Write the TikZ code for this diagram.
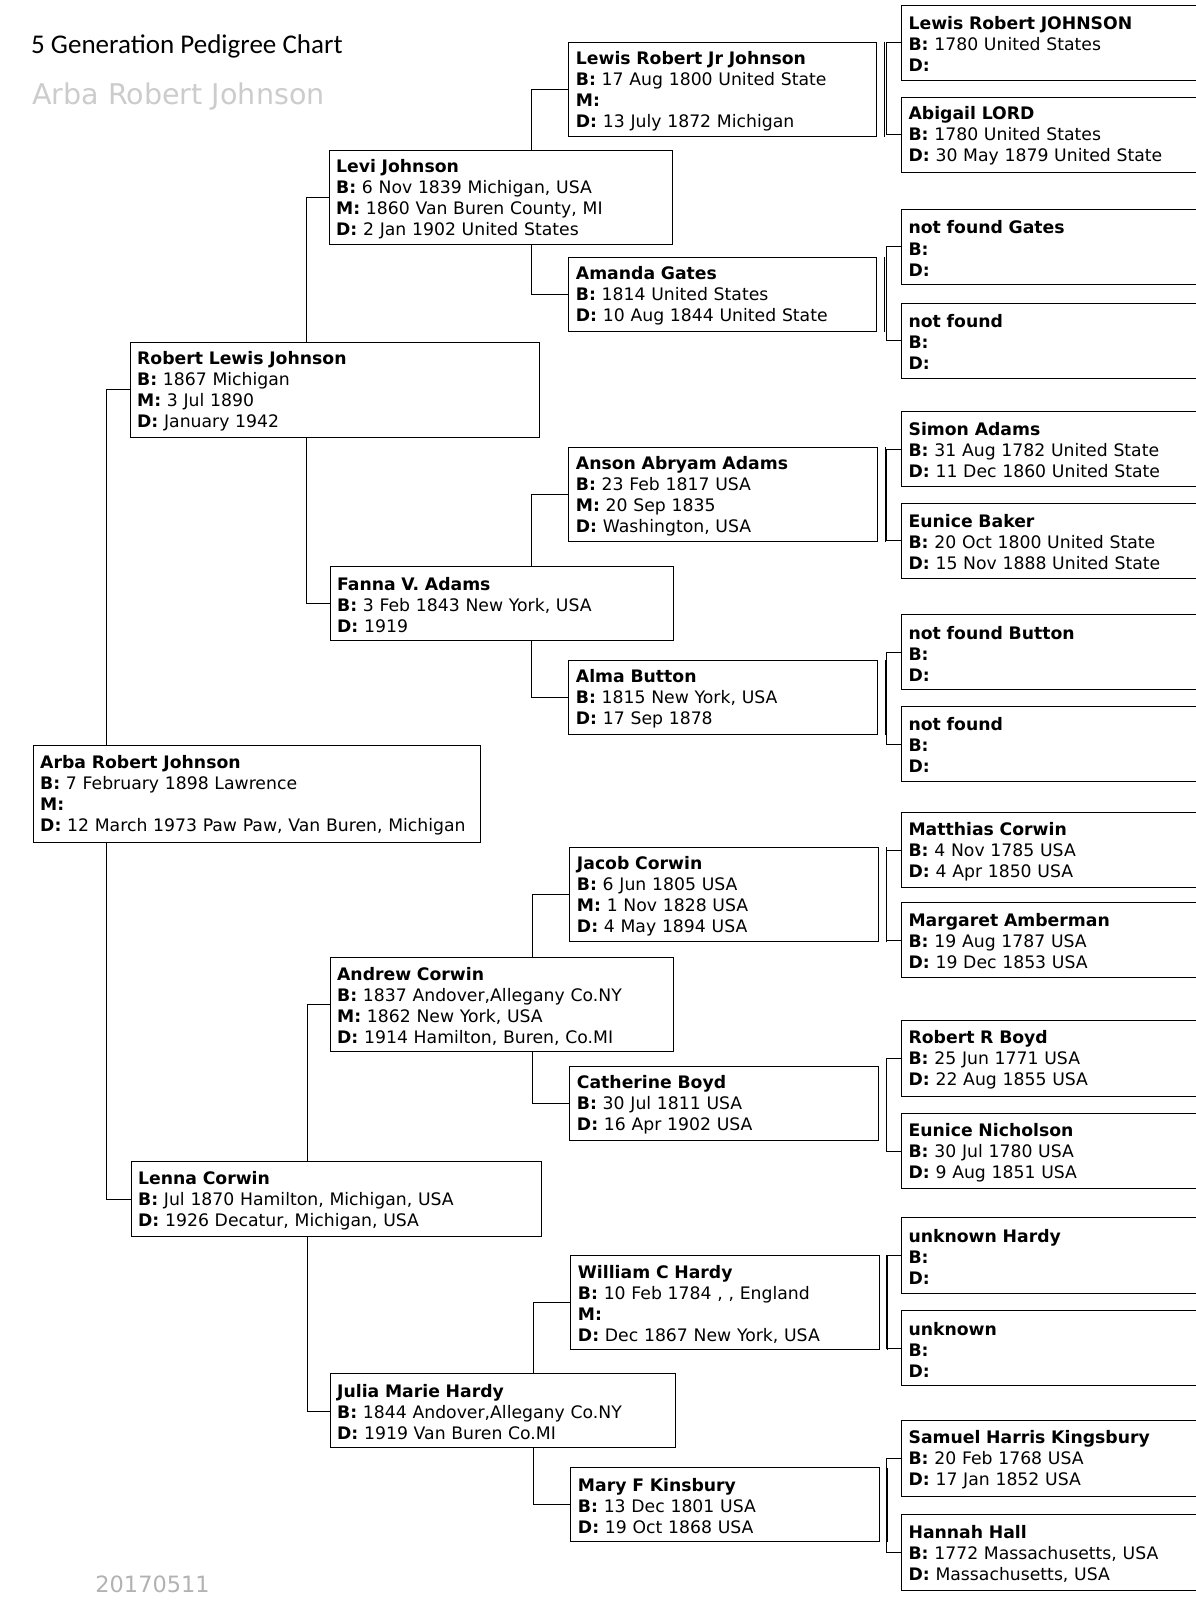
\documentclass[tikz,border=0pt]{standalone}
\usepackage{fontspec}
\setmainfont{DejaVu Sans}
\newfontfamily\titlefont{Carlito}
\usetikzlibrary{backgrounds}
\hyphenpenalty=10000
\exhyphenpenalty=10000
\tikzset{
 pbox/.style={draw, fill=white, line width=0.8pt, anchor=north west, align=left, inner xsep=7pt, inner ysep=2pt, font=\fontsize{16.9}{20.6}\selectfont},
 obox/.style={pbox, draw=none},
 conn/.style={line width=0.8pt}
}
\newcommand{\pb}[6]{\node[pbox, text width=#4-14pt, minimum width=#4, minimum height=#5] (#1) at (#2,#3) {\rule{0pt}{16pt}#6};}
\newcommand{\ob}[4]{\node[obox, text width=282pt, minimum width=296pt, minimum height=73pt] (#1) at (883,#2) {\rule{0pt}{16pt}\textbf{#3}\\#4};
 \draw[conn] (#1.north east) -- (#1.north west) -- (#1.south west) -- (#1.south east);}
\begin{document}
\begin{tikzpicture}[x=1pt,y=-1pt,scale=1.0205,every node/.append style={transform shape}]
\node[anchor=west, font=\titlefont\fontsize{26.5}{30}\selectfont] (title) at (27,46) {5 Generation Pedigree Chart};
\node[anchor=west, text=black!20, font=\fontsize{28}{30}\selectfont] (sub) at (28,95) {Arba Robert Johnson};
\node[anchor=west, text=black!30, font=\fontsize{22}{24}\selectfont] (foot) at (90,1553) {20170511};
% gen1
\pb{arba}{32}{730}{438pt}{95pt}{\textbf{Arba Robert Johnson}\\\textbf{B:} 7 February 1898 Lawrence\\\textbf{M:}\\\textbf{D:} 12 March 1973 Paw Paw, Van Buren, Michigan}
% gen2
\pb{robert}{127}{335}{401pt}{93pt}{\textbf{Robert Lewis Johnson}\\\textbf{B:} 1867 Michigan\\\textbf{M:} 3 Jul 1890\\\textbf{D:} January 1942}
\pb{lenna}{128}{1138}{402pt}{73pt}{\textbf{Lenna Corwin}\\\textbf{B:} Jul 1870 Hamilton, Michigan, USA\\\textbf{D:} 1926 Decatur, Michigan, USA}
% gen3
\pb{levi}{322}{147}{337pt}{92pt}{\textbf{Levi Johnson}\\\textbf{B:} 6 Nov 1839 Michigan, USA\\\textbf{M:} 1860 Van Buren County, MI\\\textbf{D:} 2 Jan 1902 United States}
\pb{fanna}{323}{555}{337pt}{72pt}{\textbf{Fanna V. Adams}\\\textbf{B:} 3 Feb 1843 New York, USA\\\textbf{D:} 1919}
\pb{andrew}{323}{938}{337pt}{92pt}{\textbf{Andrew Corwin}\\\textbf{B:} 1837 Andover,Allegany Co.NY\\\textbf{M:} 1862 New York, USA\\\textbf{D:} 1914 Hamilton, Buren, Co.MI}
\pb{julia}{323}{1346}{338pt}{72pt}{\textbf{Julia Marie Hardy}\\\textbf{B:} 1844 Andover,Allegany Co.NY\\\textbf{D:} 1919 Van Buren Co.MI}
% gen4
\pb{lrj}{557}{41}{301pt}{92pt}{\textbf{Lewis Robert Jr Johnson}\\\textbf{B:} 17 Aug 1800 United State\\\textbf{M:}\\\textbf{D:} 13 July 1872 Michigan}
\pb{amanda}{557}{252}{301pt}{72pt}{\textbf{Amanda Gates}\\\textbf{B:} 1814 United States\\\textbf{D:} 10 Aug 1844 United State}
\pb{anson}{557}{438}{302pt}{92pt}{\textbf{Anson Abryam Adams}\\\textbf{B:} 23 Feb 1817 USA\\\textbf{M:} 20 Sep 1835\\\textbf{D:} Washington, USA}
\pb{alma}{557}{647}{302pt}{72pt}{\textbf{Alma Button}\\\textbf{B:} 1815 New York, USA\\\textbf{D:} 17 Sep 1878}
\pb{jacob}{558}{830}{302pt}{92pt}{\textbf{Jacob Corwin}\\\textbf{B:} 6 Jun 1805 USA\\\textbf{M:} 1 Nov 1828 USA\\\textbf{D:} 4 May 1894 USA}
\pb{cath}{558}{1045}{302pt}{72pt}{\textbf{Catherine Boyd}\\\textbf{B:} 30 Jul 1811 USA\\\textbf{D:} 16 Apr 1902 USA}
\pb{william}{559}{1230}{302pt}{92pt}{\textbf{William C Hardy}\\\textbf{B:} 10 Feb 1784 , , England\\\textbf{M:}\\\textbf{D:} Dec 1867 New York, USA}
\pb{mary}{559}{1438}{302pt}{72pt}{\textbf{Mary F Kinsbury}\\\textbf{B:} 13 Dec 1801 USA\\\textbf{D:} 19 Oct 1868 USA}
\foreach \n in {lrj,amanda,anson,alma,jacob,cath,william,mary}
 \draw[conn] ([xshift=8pt]\n.north east) -- ([xshift=8pt]\n.south east);
% gen5
\ob{g1}{5}{Lewis Robert JOHNSON}{\textbf{B:} 1780 United States\\\textbf{D:}}
\ob{g2}{95}{Abigail LORD}{\textbf{B:} 1780 United States\\\textbf{D:} 30 May 1879 United State}
\ob{g3}{205}{not found Gates}{\textbf{B:}\\\textbf{D:}}
\ob{g4}{297}{not found}{\textbf{B:}\\\textbf{D:}}
\ob{g5}{403}{Simon Adams}{\textbf{B:} 31 Aug 1782 United State\\\textbf{D:} 11 Dec 1860 United State}
\ob{g6}{493}{Eunice Baker}{\textbf{B:} 20 Oct 1800 United State\\\textbf{D:} 15 Nov 1888 United State}
\ob{g7}{602}{not found Button}{\textbf{B:}\\\textbf{D:}}
\ob{g8}{692}{not found}{\textbf{B:}\\\textbf{D:}}
\ob{g9}{796}{Matthias Corwin}{\textbf{B:} 4 Nov 1785 USA\\\textbf{D:} 4 Apr 1850 USA}
\ob{g10}{884}{Margaret Amberman}{\textbf{B:} 19 Aug 1787 USA\\\textbf{D:} 19 Dec 1853 USA}
\ob{g11}{1000}{Robert R Boyd}{\textbf{B:} 25 Jun 1771 USA\\\textbf{D:} 22 Aug 1855 USA}
\ob{g12}{1091}{Eunice Nicholson}{\textbf{B:} 30 Jul 1780 USA\\\textbf{D:} 9 Aug 1851 USA}
\ob{g13}{1193}{unknown Hardy}{\textbf{B:}\\\textbf{D:}}
\ob{g14}{1284}{unknown}{\textbf{B:}\\\textbf{D:}}
\ob{g15}{1392}{Samuel Harris Kingsbury}{\textbf{B:} 20 Feb 1768 USA\\\textbf{D:} 17 Jan 1852 USA}
\ob{g16}{1484}{Hannah Hall}{\textbf{B:} 1772 Massachusetts, USA\\\textbf{D:} Massachusetts, USA}
\begin{scope}[on background layer]
\draw[conn] (robert.west) -- ++(-23,0) |- (lenna.west);
\draw[conn] (levi.west) -- ++(-22,0) |- (fanna.west);
\draw[conn] (andrew.west) -- ++(-22,0) |- (julia.west);
\draw[conn] (lrj.west) -- ++(-36,0) |- (amanda.west);
\draw[conn] (anson.west) -- ++(-36,0) |- (alma.west);
\draw[conn] (jacob.west) -- ++(-36,0) |- (cath.west);
\draw[conn] (william.west) -- ++(-36,0) |- (mary.west);
\foreach \a/\b in {g1/g2,g3/g4,g5/g6,g7/g8,g9/g10,g11/g12,g13/g14,g15/g16}
 \draw[conn] (\a.west) -- ++(-15,0) |- (\b.west);
\end{scope}
\pgfresetboundingbox
\useasboundingbox (0,0) rectangle (1172,1568);
\end{tikzpicture}
\end{document}
